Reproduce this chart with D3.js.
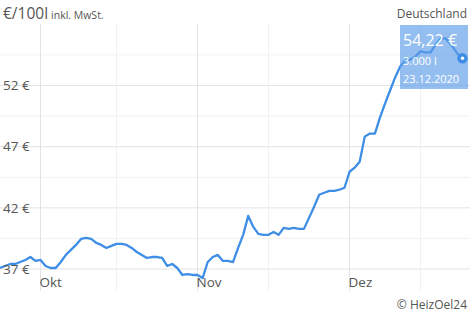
<!DOCTYPE html>
<html>
<head>
<meta charset="utf-8">
<script src="https://cdn.jsdelivr.net/npm/d3@7"></script>
<style>
  body { margin: 0; background: #fff; }
  svg { display: block; font-family: "Open Sans", sans-serif; }
</style>
</head>
<body>
<svg width="472" height="320"></svg>
<script>
// Heizölpreis Deutschland, €/100l, 3.000 l
const dates = [
  "2020-09-23","2020-09-24","2020-09-25","2020-09-26","2020-09-27","2020-09-28","2020-09-29","2020-09-30",
  "2020-10-01","2020-10-02","2020-10-03","2020-10-04","2020-10-05","2020-10-06","2020-10-07","2020-10-08",
  "2020-10-09","2020-10-10","2020-10-11","2020-10-12","2020-10-13","2020-10-14","2020-10-15","2020-10-16",
  "2020-10-17","2020-10-18","2020-10-19","2020-10-20","2020-10-21","2020-10-22","2020-10-23","2020-10-24",
  "2020-10-25","2020-10-26","2020-10-27","2020-10-28","2020-10-29","2020-10-30","2020-10-31",
  "2020-11-01","2020-11-02","2020-11-03","2020-11-04","2020-11-05","2020-11-06","2020-11-07","2020-11-08",
  "2020-11-09","2020-11-10","2020-11-11","2020-11-12","2020-11-13","2020-11-14","2020-11-15","2020-11-16",
  "2020-11-17","2020-11-18","2020-11-19","2020-11-20","2020-11-21","2020-11-22","2020-11-23","2020-11-24",
  "2020-11-25","2020-11-26","2020-11-27","2020-11-28","2020-11-29","2020-11-30",
  "2020-12-01","2020-12-02","2020-12-03","2020-12-04","2020-12-05","2020-12-06","2020-12-07","2020-12-08",
  "2020-12-09","2020-12-10","2020-12-11","2020-12-12","2020-12-13","2020-12-14","2020-12-15","2020-12-16",
  "2020-12-17","2020-12-18","2020-12-19","2020-12-20","2020-12-21","2020-12-22","2020-12-23"
];
const prices = [
  37.08,37.25,37.41,37.41,37.57,37.74,37.98,37.66,
  37.74,37.25,37.08,37.08,37.57,38.15,38.56,38.97,
  39.46,39.54,39.46,39.13,38.97,38.72,38.89,39.05,
  39.05,38.97,38.72,38.39,38.15,37.90,37.98,37.98,
  37.90,37.25,37.41,37.08,36.51,36.59,36.51,
  36.51,36.26,37.57,37.98,38.15,37.66,37.66,37.57,
  38.72,39.79,41.34,40.44,39.87,39.79,39.79,40.03,
  39.79,40.36,40.28,40.36,40.28,40.28,41.18,42.08,
  43.07,43.23,43.39,43.39,43.48,43.64,
  44.95,45.28,45.77,47.82,48.07,48.07,49.38,50.52,
  51.59,52.66,53.56,54.05,54.13,54.38,54.79,54.70,
  54.70,55.36,55.85,55.85,55.36,54.79,54.22
];
const yTicks = [37, 42, 47, 52];
const yMinorTicks = [34.5, 39.5, 44.5, 49.5, 54.5];
const monthTicks = ["2020-10-01", "2020-11-01", "2020-12-01"];
const monthLabels = ["Okt", "Nov", "Dez"];
const midTicks = ["2020-10-16", "2020-11-15", "2020-12-15"];
const amount = "3.000 l";

const parse = d3.utcParse("%Y-%m-%d");
const data = dates.map((d, i) => ({ date: parse(d), value: prices[i] }));

const svg = d3.select("svg");
const textColor = "#555";
const blue = "#3f8ee6";

const x = d3.scaleUtc()
  .domain([parse("2020-09-23"), parse("2020-12-23")])
  .range([0, 461]);

const y = d3.scaleLinear()
  .domain([37, 52])
  .range([269, 85.5]);

const gridTop = 24, gridBottom = 291;

// grid
const grid = svg.append("g");
grid.selectAll(".hminor")
  .data(yMinorTicks.filter(v => y(v) > gridTop && y(v) < gridBottom))
  .join("line")
  .attr("x1", 0).attr("x2", 470)
  .attr("y1", d => y(d)).attr("y2", d => y(d))
  .attr("stroke", "#f1f1f1");
grid.selectAll(".hmajor")
  .data(yTicks)
  .join("line")
  .attr("x1", 0).attr("x2", 470)
  .attr("y1", d => y(d)).attr("y2", d => y(d))
  .attr("stroke", "#e3e3e3");
grid.selectAll(".vminor")
  .data(midTicks.map(parse))
  .join("line")
  .attr("x1", d => x(d)).attr("x2", d => x(d))
  .attr("y1", gridTop).attr("y2", gridBottom)
  .attr("stroke", "#f1f1f1");
grid.selectAll(".vmajor")
  .data(monthTicks.map(parse))
  .join("line")
  .attr("x1", d => x(d)).attr("x2", d => x(d))
  .attr("y1", gridTop).attr("y2", gridBottom)
  .attr("stroke", "#e3e3e3");

// line
const line = d3.line()
  .x(d => x(d.date))
  .y(d => y(d.value));

svg.append("path")
  .datum(data)
  .attr("fill", "none")
  .attr("stroke", blue)
  .attr("stroke-width", 2.3)
  .attr("stroke-linejoin", "round")
  .attr("d", line);

// y labels
svg.append("g").selectAll("text")
  .data(yTicks)
  .join("text")
  .attr("x", 3)
  .attr("y", d => y(d))
  .attr("dy", "0.35em")
  .attr("fill", textColor)
  .attr("font-size", 13.5)
  .text(d => d + " €");

// x labels
svg.append("g").selectAll("text")
  .data(monthTicks.map(parse))
  .join("text")
  .attr("x", d => x(d) - 1)
  .attr("y", 282)
  .attr("dy", "0.35em")
  .attr("fill", textColor)
  .attr("font-size", 13.5)
  .text((d, i) => monthLabels[i]);

// titles
const title = svg.append("text")
  .attr("x", 3).attr("y", 19)
  .attr("fill", textColor);
title.append("tspan").attr("font-size", 15.5).text("€/100l");
title.append("tspan").attr("font-size", 10.5).attr("dx", 3).text("inkl. MwSt.");

svg.append("text")
  .attr("x", 467).attr("y", 18)
  .attr("text-anchor", "end")
  .attr("fill", textColor)
  .attr("font-size", 12)
  .text("Deutschland");

svg.append("text")
  .attr("x", 467).attr("y", 309)
  .attr("text-anchor", "end")
  .attr("fill", textColor)
  .attr("font-size", 12)
  .text("© HeizOel24");

// tooltip for last point
const last = data[data.length - 1];
const fmt = d3.format(".2f");
const tip = svg.append("g");
tip.append("rect")
  .attr("x", 400).attr("y", 25)
  .attr("width", 68).attr("height", 64)
  .attr("fill", "#5b9be8")
  .attr("fill-opacity", 0.65);
tip.append("text")
  .attr("x", 403).attr("y", 46)
  .attr("fill", "#fff").attr("font-size", 16)
  .text(fmt(last.value).replace(".", ",") + " €");
tip.append("text")
  .attr("x", 403).attr("y", 65)
  .attr("fill", "#fff").attr("font-size", 11)
  .text(amount);
tip.append("text")
  .attr("x", 403).attr("y", 83)
  .attr("fill", "#fff").attr("font-size", 11)
  .text(d3.utcFormat("%d.%m.%Y")(last.date));

svg.append("circle")
  .attr("cx", x(last.date) + 1.5)
  .attr("cy", y(last.value))
  .attr("r", 3.5)
  .attr("fill", "#fff")
  .attr("stroke", blue)
  .attr("stroke-width", 3.5);
</script>
</body>
</html>
